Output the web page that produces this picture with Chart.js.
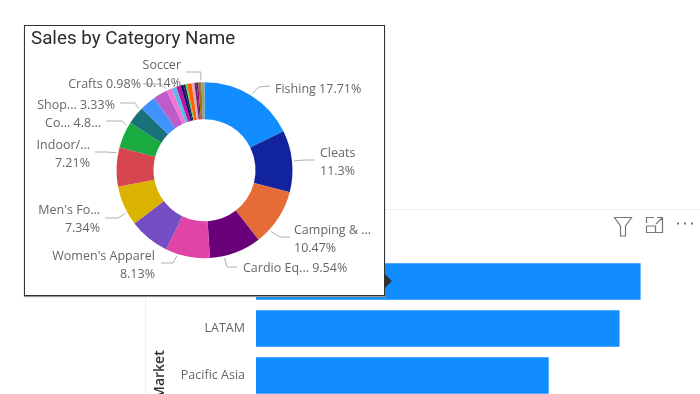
<!DOCTYPE html>
<html>
<head>
<meta charset="utf-8">
<title>Sales by Category Name</title>
<script src="https://cdn.jsdelivr.net/npm/chart.js@4"></script>
<style>
  html, body { margin: 0; width: 700px; height: 394px; overflow: hidden; background: #fff; }
  #back { position: absolute; left: 145px; top: 209px; width: 560px; height: 200px; border: 1px solid #eee; box-sizing: border-box; }
  #barChart { position: absolute; left: 0; top: 0; }
  #icons { position: absolute; left: 610px; top: 214px; }
  #card { position: absolute; left: 24px; top: 25px; width: 361px; height: 271px; box-sizing: border-box; border: 1px solid #333; background: #fff; box-shadow: 0 1px 1px #999; }
  #pointer { position: absolute; left: 385px; top: 274px; border-left: 7px solid #333; border-top: 7px solid transparent; border-bottom: 7px solid transparent; }
</style>
</head>
<body>
<div id="back"></div>
<canvas id="barChart" width="700" height="407"></canvas>
<svg id="icons" width="90" height="24" fill="none" stroke="#777" stroke-width="1.2">
  <path d="M4.5 3.5 H21.5 L15.5 12 V22 H10.5 V12 Z"/>
  <path d="M36.5 9 V3.5 H44 M47 3.5 H52.5 V18.5 H36.5 V12 H45.5 V18.5 M46 10 L52 4 M48 3.5 H52.5 V8"/>
  <path d="M67 9.5 h2 M74 9.5 h2 M81 9.5 h2" stroke-width="2"/>
</svg>
<div id="card"><canvas id="donutChart" width="359" height="269"></canvas></div>
<div id="pointer"></div>

<script>
const sliceNames = ["Fishing", "Cleats", "Camping & ...", "Cardio Eq...", "Women's Apparel", "", "Men's Fo...", "Indoor/...", "Co...", "Shop...", "", "", "Crafts", "", "", "", "", "", "", "", "", "", "", "Soccer", ""];
const sliceValues = [17.71, 11.3, 10.47, 9.54, 8.13, 7.5, 7.34, 7.21, 4.83, 3.33, 2.95, 2.6, 0.98, 0.9, 0.8, 0.55, 0.35, 0.3, 0.85, 0.5, 0.4, 0.3, 0.4, 0.14, 0.6];
const sliceColors = ["#118DFF", "#12239E", "#E66C37", "#6B007B", "#E044A7", "#744EC2", "#D9B300", "#D64550", "#1AAB40", "#197278", "#4092FF", "#BE5DC9", "#F472D0", "#5CB8E8", "#C0129C", "#15107C", "#1B1B3A", "#5BD667", "#FF6300", "#F4A0C0", "#533285", "#99004A", "#99700A", "#3A3A3A", "#9AA07A"];

const marketNames = ["Europe", "LATAM", "Pacific Asia"];
const marketSales = [217500, 205600, 165500];

// label text and leader elbows, in page pixels
const callouts = [
  { slice: 0, pos: 0.5, lines: ["Fishing 17.71%"], x: 275, y: 89, align: "left", elbow: [259, 87], end: [270, 86] },
  { slice: 1, pos: 0.5, lines: ["Cleats", "11.3%"], x: 320, y: 153, align: "left", elbow: [304, 160], end: [315, 160] },
  { slice: 2, pos: 0.75, lines: ["Camping & ...", "10.47%"], x: 294, y: 230, align: "left", elbow: [280, 237], end: [290, 237] },
  { slice: 3, pos: 0.73, lines: ["Cardio Eq... 9.54%"], x: 243, y: 268, align: "left", elbow: [227, 267], end: [237, 267] },
  { slice: 4, pos: 0.73, lines: ["Women's Apparel", "8.13%"], x: 155, y: 256, align: "right", elbow: [173, 263], end: [161, 263] },
  { slice: 6, pos: 0.32, lines: ["Men's Fo...", "7.34%"], x: 100, y: 210, align: "right", elbow: [118, 218], end: [105, 218] },
  { slice: 7, pos: 0.85, lines: ["Indoor/...", "7.21%"], x: 90, y: 145, align: "right", elbow: [105, 152], end: [95, 152] },
  { slice: 8, pos: 0.85, lines: ["Co... 4.8..."], x: 101, y: 123, align: "right", elbow: [122, 121], end: [106, 121] },
  { slice: 9, pos: 0.88, lines: ["Shop... 3.33%"], x: 115, y: 105, align: "right", elbow: [135, 103], end: [120, 103] },
  { slice: 12, pos: 0.1, lines: ["Crafts 0.98%"], x: 141, y: 84, align: "right", elbow: [160, 84], end: [143, 84] },
  { slice: 23, pos: 0.5, lines: ["Soccer", "0.14%"], x: 181, y: 65, align: "right", elbow: [201, 72], end: [186, 72] }
];

const calloutPlugin = {
  id: "callouts",
  afterDraw(chart) {
    const ctx = chart.ctx;
    const arcs = chart.getDatasetMeta(0).data;
    ctx.save();
    ctx.translate(-25, -26);
    ctx.font = "12.5px 'Open Sans'";
    ctx.textBaseline = "middle";
    callouts.forEach(function (c) {
      const arc = arcs[c.slice].getProps(["x", "y", "startAngle", "endAngle", "outerRadius"]);
      const a = arc.startAngle + (arc.endAngle - arc.startAngle) * c.pos;
      const r = arc.outerRadius + 2;
      ctx.beginPath();
      ctx.moveTo(arc.x + 25 + r * Math.cos(a), arc.y + 26 + r * Math.sin(a));
      ctx.lineTo(c.elbow[0], c.elbow[1]);
      ctx.lineTo(c.end[0], c.end[1]);
      ctx.strokeStyle = "#b0b0b0";
      ctx.lineWidth = 1;
      ctx.stroke();
      ctx.fillStyle = "#666";
      ctx.textAlign = c.align;
      c.lines.forEach(function (line, i) {
        ctx.fillText(line, c.x, c.y + i * 18);
      });
    });
    ctx.restore();
  }
};

const dottedGrid = {
  id: "dottedGrid",
  beforeDatasetsDraw(chart) {
    const ctx = chart.ctx;
    const xs = chart.scales.x;
    ctx.save();
    ctx.strokeStyle = "#ddd";
    ctx.setLineDash([1, 3]);
    xs.ticks.forEach(function (t) {
      if (t.value === 0 || t.value % 100000 !== 0) return;
      const x = xs.getPixelForValue(t.value);
      ctx.beginPath();
      ctx.moveTo(x, chart.chartArea.top - 10);
      ctx.lineTo(x, chart.chartArea.bottom);
      ctx.stroke();
    });
    ctx.restore();
  }
};

new Chart(document.getElementById("barChart"), {
  type: "bar",
  data: {
    labels: marketNames,
    datasets: [{ data: marketSales, backgroundColor: "#118DFF", barThickness: 36 }]
  },
  plugins: [dottedGrid],
  options: {
    indexAxis: "y",
    responsive: false,
    animation: false,
    layout: { padding: { left: 152, right: 20, top: 258 } },
    plugins: { legend: { display: false }, tooltip: { enabled: false } },
    scales: {
      x: {
        min: 0,
        max: 240000,
        ticks: { display: false, stepSize: 100000 },
        grid: { display: false },
        border: { display: false }
      },
      y: {
        // the tick padding would otherwise lift the bottom of the plot
        afterFit(scale) { scale.width = 104; scale.paddingBottom = 0; },
        ticks: { color: "#666", padding: 11, font: { family: "'Open Sans'", size: 12.5 } },
        grid: { display: false, drawTicks: false },
        border: { display: false },
        title: {
          display: true,
          text: "Market",
          align: "start",
          color: "#333",
          padding: 0,
          font: { family: "'Open Sans'", size: 14, weight: "600" }
        }
      }
    }
  }
});

new Chart(document.getElementById("donutChart"), {
  type: "doughnut",
  data: {
    labels: sliceNames,
    datasets: [{ data: sliceValues, backgroundColor: sliceColors, borderWidth: 0, radius: 88, cutout: "58%" }]
  },
  plugins: [calloutPlugin],
  options: {
    responsive: false,
    animation: false,
    layout: { padding: { left: 6, right: 6, bottom: 5.2 } },
    plugins: {
      legend: { display: false },
      tooltip: { enabled: false },
      title: {
        display: true,
        text: "Sales by Category Name",
        align: "start",
        color: "#2b2b2b",
        padding: { top: 2, bottom: 0 },
        font: { family: "Roboto", size: 18.8, weight: "400", lineHeight: 1.2 }
      }
    }
  }
});
</script>
</body>
</html>
